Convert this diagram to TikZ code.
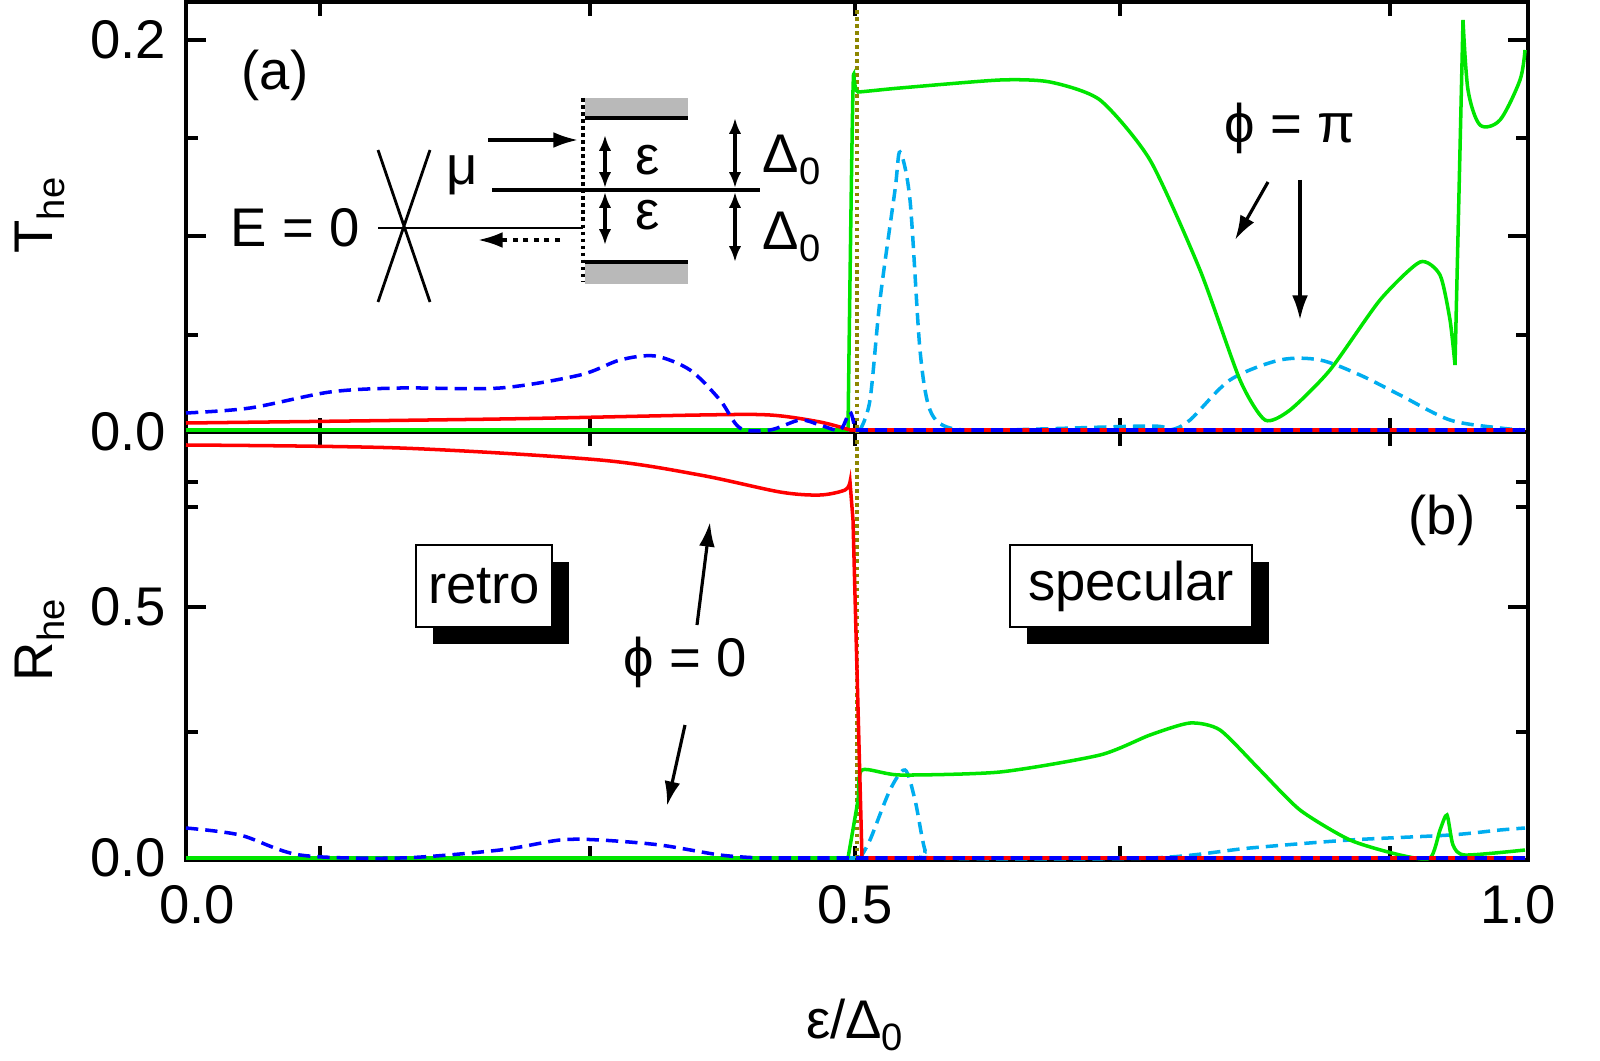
\documentclass[tikz,border=0pt]{standalone}
\usepackage{fontspec}
\usetikzlibrary{arrows.meta}
\setmainfont{Liberation Sans}
\begin{document}
\begin{tikzpicture}[x=0.02cm,y=-0.02cm,
  lab/.style={font=\fontsize{31}{36}\selectfont},
  frm/.style={line width=2.6pt},
  rd/.style={red,line width=2pt},
  gr/.style={green!90!black,line width=2pt},
  bl/.style={blue,dash pattern=on 7pt off 4pt,line width=2pt},
  cy/.style={cyan,dash pattern=on 7pt off 4pt,line width=2pt},
  arr/.style={-{Latex[length=14pt,width=9pt]},line width=1.8pt},
  darr/.style={{Latex[length=9pt,width=7pt]}-{Latex[length=9pt,width=7pt]},line width=1.8pt}]
\useasboundingbox (0,0) rectangle (1600,1061);
% frames
\draw[frm] (186,2) rectangle (1528,432);
\draw[frm] (186,432) rectangle (1528,860);
% ticks
\foreach \x in {320,590,855,1120,1390}{
  \draw[frm] (\x,2)--(\x,16); \draw[frm] (\x,432)--(\x,418); \draw[frm] (\x,432)--(\x,446); \draw[frm] (\x,860)--(\x,846);}
\foreach \y in {40,236}{\draw[frm] (186,\y)--(206,\y); \draw[frm] (1528,\y)--(1508,\y);}
\foreach \y in {138,335}{\draw[frm] (186,\y)--(198,\y); \draw[frm] (1528,\y)--(1516,\y);}
\foreach \y in {607}{\draw[frm] (186,\y)--(206,\y); \draw[frm] (1528,\y)--(1508,\y);}
\foreach \y in {507,732,482}{\draw[frm] (186,\y)--(198,\y); \draw[frm] (1528,\y)--(1516,\y);}
% tick labels
\node[lab,anchor=east] (t1) at (172,40) {0.2};
\node[lab,anchor=east] (t2) at (172,432) {0.0};
\node[lab,anchor=east] (t3) at (172,607) {0.5};
\node[lab,anchor=east] (t4) at (172,858) {0.0};
\node[lab] (x1) at (197,905) {0.0};
\node[lab] (x2) at (855,905) {0.5};
\node[lab] (x3) at (1518,905) {1.0};
\node[lab,rotate=90] (yl1) at (40,215) {T\textsubscript{he}};
\node[lab,rotate=90] (yl2) at (40,640) {R\textsubscript{he}};
\node[lab] (xl) at (855,1025) {ε/Δ\textsubscript{0}};
% panel a curves
\draw[olive,dotted,line width=2pt] (857,10)--(857,432);
\draw[cy] (186,430)--(860,430) plot[smooth] coordinates {(860,430)(870,400)(880,300)(895,190)(900,152)(910,200)(920,350)(930,410)(950,428)(1000,430)(1150,426)(1170,430)(1190,420)(1230,380)(1280,360)(1320,360)(1360,375)(1400,395)(1450,420)(1500,428)(1525,430)};
\draw[gr] (186,430)--(848,430) plot[smooth,tension=0.4] coordinates {(848,430)(853,90)(858,92)(900,88)(1000,80)(1050,82)(1100,100)(1150,160)(1200,270)(1240,380)(1265,420)(1290,410)(1330,370)(1380,300)(1420,262)(1440,275)(1450,320)(1455,365)} -- (1463,20) plot[smooth,tension=0.5] coordinates {(1463,20)(1468,90)(1480,125)(1500,120)(1520,80)(1525,50)};
\draw[rd] plot[smooth] coordinates {(186,423)(500,419)(700,415)(770,415)(820,422)(850,430)} -- (1525,430);
\draw[bl] plot[smooth] coordinates {(186,413)(250,408)(330,392)(400,388)(500,388)(580,375)(620,360)(655,356)(690,370)(720,400)(740,428)(770,430)(800,420)(820,425)(840,430)(850,412)(855,430)} -- (1525,430);
% panel b curves
\draw[olive,dotted,line width=2pt] (857,440)--(857,858);
\draw[cy] (186,858)--(860,858) plot[smooth] coordinates {(860,858)(870,840)(890,790)(905,770)(915,800)(925,850)(935,858)(1150,858)(1250,848)(1350,840)(1450,835)(1500,830)(1525,828)};
\draw[gr] (186,858)--(848,858) plot[smooth,tension=0.4] coordinates {(848,858)(858,800)(862,770)(900,775)(1000,772)(1100,755)(1150,735)(1190,723)(1220,730)(1260,770)(1300,810)(1350,840)(1400,855)(1430,858)(1440,830)(1447,815)(1453,845)(1465,855)(1525,850)};
\draw[rd] plot[smooth,tension=0.5] coordinates {(186,445)(400,448)(600,460)(700,475)(780,492)(820,495)(845,490)(850,482)} -- (853,520) -- (862,858) -- (1525,858);
\draw[bl] plot[smooth] coordinates {(186,828)(240,835)(300,855)(400,858)(500,850)(560,840)(600,840)(660,845)(720,855)(760,858)} -- (1525,858);
% boxes
\fill (433,562) rectangle (569,644);
\node[lab,draw,fill=white,line width=1.2pt,minimum width=136*0.02cm,minimum height=82*0.02cm] (retro) at (484,586) {retro};
\fill (1027,562) rectangle (1269,644);
\node[lab,draw,fill=white,line width=1.2pt,minimum width=242*0.02cm,minimum height=82*0.02cm] (spec) at (1131,586) {specular};
% labels
\node[lab] (pa) at (275,75) {(a)};
\node[lab] (pb) at (1442,520) {(b)};
\node[lab] (phipi) at (1290,128) {ϕ = π};
\node[lab] (phi0) at (685,662) {ϕ = 0};
\coordinate (a1s) at (1268,182); \coordinate (a1e) at (1235,240);
\coordinate (a2s) at (1300,180); \coordinate (a2e) at (1300,320);
\coordinate (a3s) at (697,625); \coordinate (a3e) at (710,522);
\coordinate (a4s) at (685,725); \coordinate (a4e) at (667,806);
\draw[arr] (a1s)--(a1e); \draw[arr] (a2s)--(a2e); \draw[arr] (a3s)--(a3e); \draw[arr] (a4s)--(a4e);
% inset
\fill[gray!55] (585,98) rectangle (688,118);
\fill[gray!55] (585,262) rectangle (688,284);
\draw[line width=2pt] (585,118)--(688,118) (585,262)--(688,262);
\draw[line width=1.6pt] (378,150)--(430,302) (430,150)--(378,302);
\draw[line width=1pt] (378,228)--(583,228);
\draw[line width=2pt] (492,190)--(760,190);
\draw[dotted,line width=2pt] (583,98)--(583,282);
\draw[arr] (488,140)--(578,140);
\draw[arr,dashed] (560,240)--(478,240);
\draw[darr] (605,135)--(605,188); \draw[darr] (605,192)--(605,245);
\draw[darr] (735,118)--(735,188); \draw[darr] (735,192)--(735,262);
\node[lab] (e0) at (295,228) {E = 0};
\node[lab] (mu) at (462,175) {μ};
\node[lab] (ep1) at (648,160) {ε};
\node[lab] (ep2) at (648,215) {ε};
\node[lab] (d1) at (792,160) {Δ\textsubscript{0}};
\node[lab] (d2) at (792,237) {Δ\textsubscript{0}};
\end{tikzpicture}
\end{document}
